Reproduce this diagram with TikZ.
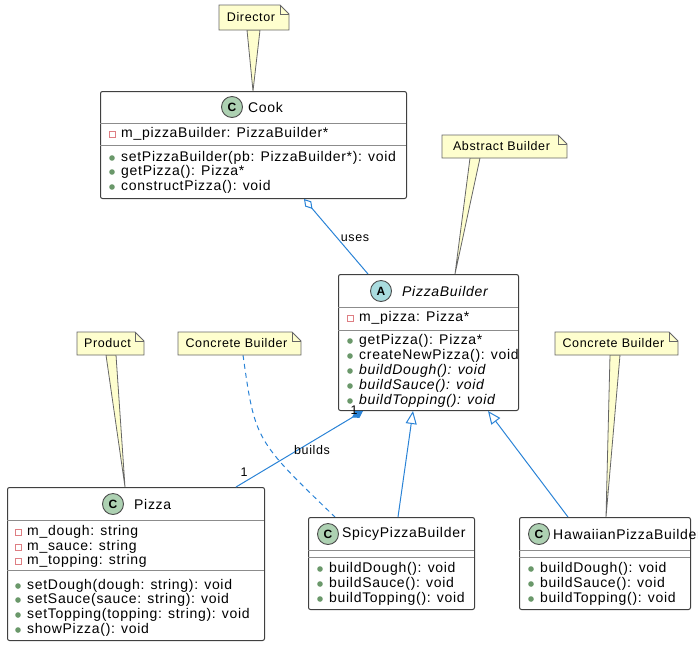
\documentclass[tikz,border=0pt]{standalone}
\usepackage{fontspec}
\setmainfont{Liberation Sans}[LetterSpace=5]
\usetikzlibrary{arrows.meta,calc}
\definecolor{link}{HTML}{2A83D6}
\definecolor{notefill}{HTML}{FEFECE}
\definecolor{cgreen}{HTML}{ADD1B2}
\definecolor{acyan}{HTML}{A9DCDF}
\definecolor{priv}{HTML}{C82930}
\definecolor{pub}{HTML}{84BE84}
\tikzset{
 cls/.style={draw=black!75,fill=white,line width=1,rounded corners=2pt,anchor=north west,inner sep=0pt},
 sep/.style={draw=black!45,line width=1},
 mem/.style={anchor=west,inner sep=0pt,font=\fontsize{14}{15}\selectfont},
 ttl/.style={anchor=west,inner sep=0pt,font=\fontsize{14}{15}\selectfont},
 lbl/.style={inner sep=0pt,font=\fontsize{12.5}{14}\selectfont},
 note/.style={fill=notefill,draw=black!60,line width=0.8},
 rel/.style={draw=link,line width=1},
}
\newcommand{\pubdot}[1]{\fill[pub!80!black] #1 circle (2.8);}
\newcommand{\privsq}[1]{\draw[priv!60,line width=0.9] ($#1+(-3,-3)$) rectangle ($#1+(3,3)$);}
\newcommand{\icon}[3]{\draw[black!70,fill=#2,line width=0.9] #1 circle (10.5); \node[inner sep=0pt,font=\bfseries\fontsize{12}{13}\selectfont] at #1 {#3};}
\newcommand{\notebox}[5]{% x1,y1,x2,y2,text
 \draw[note] (#1,#2) -- ({#3-9},#2) -- (#3,{#2+9}) -- (#3,#4) -- (#1,#4) -- cycle;
 \draw[black!60,line width=0.8] ({#3-9},#2) -- ({#3-9},{#2+9}) -- (#3,{#2+9});
 \node[lbl] at ({(#1+#3)/2-3},{(#2+#4)/2}) {#5};}
\begin{document}
\begin{tikzpicture}[x=1pt,y=-1pt]
\useasboundingbox (0,0) rectangle (698,646);

% note tails
\draw[note] (247,30) -- (253,91) -- (260,30) -- cycle;
\draw[note] (470,158) -- (455,274) -- (480,158) -- cycle;
\draw[note] (106,355) -- (125,487) -- (116,355) -- cycle;
\draw[note] (610,355) -- (606,517) -- (620,355) -- cycle;
\draw[link,line width=1,dash pattern=on 5pt off 4pt] (243,355) .. controls (255,440) .. (335,517);

\notebox{219}{5}{289}{30}{Director}
\notebox{442}{135}{567}{158}{Abstract Builder}
\notebox{77}{332}{144}{355}{Product}
\notebox{178}{332}{301}{355}{Concrete Builder}
\notebox{555}{332}{678}{355}{Concrete Builder}

% Cook
\node[cls,minimum width=306,minimum height=107] (cook) at (100,91) {};
\draw[sep] (100,123) -- (406,123) (100,145) -- (406,145);
\icon{(232,107)}{cgreen}{C}
\node[ttl] at (248,107) {Cook};
\privsq{(112,134)} \node[mem] at (121,134) {m\_pizzaBuilder: PizzaBuilder*};
\foreach \y/\t in {158/setPizzaBuilder(pb: PizzaBuilder*): void,172/getPizza(): Pizza*,187/constructPizza(): void}
 {\pubdot{(112,\y)} \node[mem] at (121,\y) {\t};}

% PizzaBuilder
\node[cls,minimum width=180,minimum height=136] (builder) at (338,274) {};
\draw[sep] (338,307) -- (518,307) (338,330) -- (518,330);
\icon{(381,291)}{acyan}{A}
\node[ttl,font=\itshape\fontsize{14}{15}\selectfont] at (402,291) {PizzaBuilder};
\privsq{(350,318)} \node[mem] at (359,318) {m\_pizza: Pizza*};
\foreach \y/\t in {341/getPizza(): Pizza*,356/createNewPizza(): void,371/\textit{buildDough(): void},386/\textit{buildSauce(): void},401/\textit{buildTopping(): void}}
 {\pubdot{(350,\y)} \node[mem] at (359,\y) {\t};}

% Pizza
\node[cls,minimum width=257,minimum height=153] (pizza) at (7,487) {};
\draw[sep] (7,520) -- (264,520) (7,570) -- (264,570);
\icon{(113,504)}{cgreen}{C}
\node[ttl] at (134,504) {Pizza};
\foreach \y/\t in {532/m\_dough: string,547/m\_sauce: string,561/m\_topping: string}
 {\privsq{(18,\y)} \node[mem] at (27,\y) {\t};}
\foreach \y/\t in {586/setDough(dough: string): void,600/setSauce(sauce: string): void,615/setTopping(topping: string): void,630/showPizza(): void}
 {\pubdot{(18,\y)} \node[mem] at (27,\y) {\t};}

% concrete builders
\foreach \nm/\x/\w/\t in {spicy/308/166/SpicyPizzaBuilder,hawaii/519/171/HawaiianPizzaBuilder}{
 \node[cls,minimum width=\w,minimum height=92] (\nm) at (\x,517) {};
 \draw[sep] (\x,550) -- ({\x+\w},550) (\x,557) -- ({\x+\w},557);
 \icon{({\x+20},534)}{cgreen}{C}
 \node[ttl] at ({\x+34},534) {\t};
 \foreach \y/\m in {569/buildDough(): void,584/buildSauce(): void,599/buildTopping(): void}
  {\pubdot{({\x+12},\y)} \node[mem] at ({\x+21},\y) {\m};}
}

% relations
\coordinate (usesA) at (304,199);
\coordinate (usesB) at (368,274);
\draw[rel,{Diamond[open,width=8,length=13]}-] (usesA) -- (usesB);
\node[lbl] at (355,238) {uses};
\coordinate (compA) at (363,411);
\coordinate (compB) at (236,487);
\draw[rel,{Diamond[width=8,length=13]}-] (compA) -- (compB);
\node[lbl] at (354,410) {1};
\node[lbl] at (244,472) {1};
\node[lbl] at (312,450) {builds};
\draw[rel,-{Triangle[open,width=11,length=13]}] (398,517) -- (413,411);
\draw[rel,-{Triangle[open,width=11,length=13]}] (568,517) -- (488,411);
\end{tikzpicture}
\end{document}
